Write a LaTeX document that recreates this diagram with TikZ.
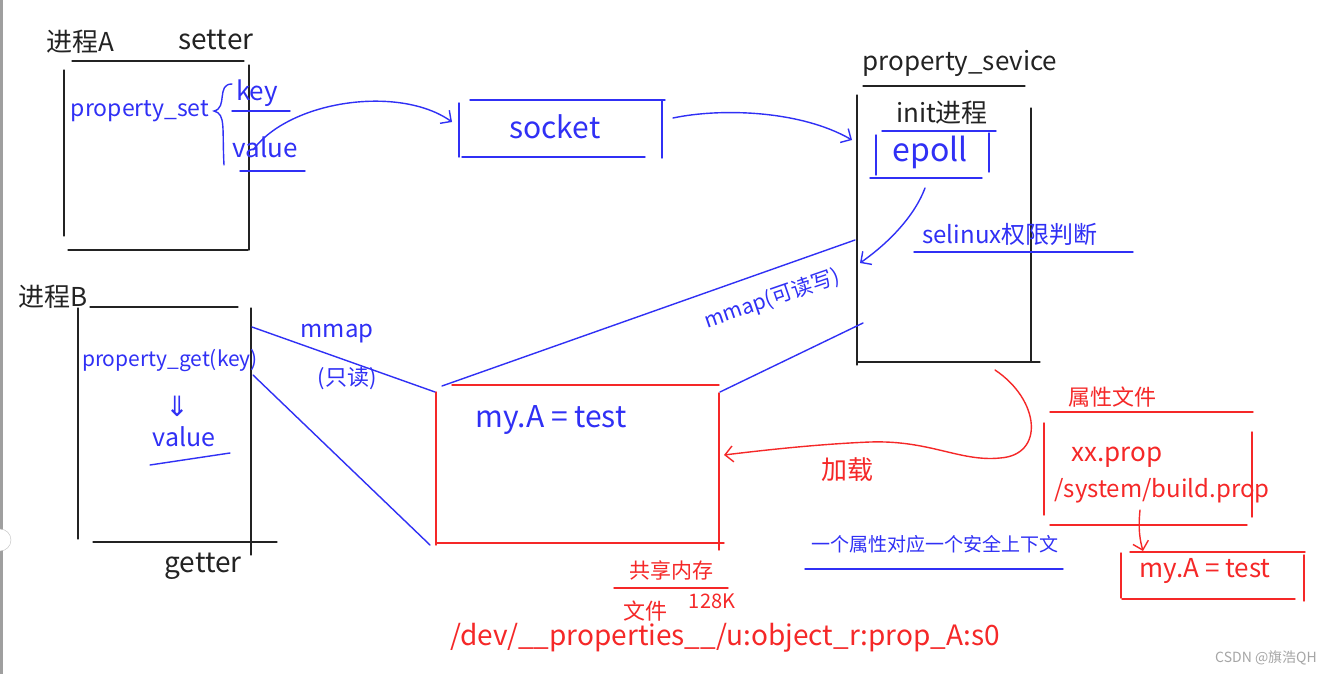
\documentclass[tikz,border=0pt]{standalone}
\usepackage{fontspec}
\setmainfont{Noto Sans CJK SC}
\newfontfamily\symfont{DejaVu Sans}
\usetikzlibrary{arrows.meta}
\definecolor{penblue}{RGB}{48,48,245}
\definecolor{penred}{RGB}{245,40,40}
\definecolor{penblack}{RGB}{35,35,35}
\newcommand{\hand}[1]{\fontsize{#1}{#1}\selectfont}
\begin{document}
\begin{tikzpicture}
    [x=1pt,y=-1pt,
    pen/.style={line width=1.4pt,line cap=round},
    bluepen/.style={pen,draw=penblue},
    redpen/.style={pen,draw=penred},
    blackpen/.style={pen,draw=penblack,line width=1.2pt},
    bluetxt/.style={inner sep=0pt,text=penblue},
    redtxt/.style={inner sep=0pt,text=penred},
    blacktxt/.style={inner sep=0pt,text=penblack},
    barb/.style={-{Straight Barb[length=8pt,width=16pt]}}]
		\useasboundingbox (0,0) rectangle (1329,674);
		\fill[white] (0,0) rectangle (1329,674);
		\fill[gray!75] (0,0) rectangle (3,674);
		\draw[gray!50,fill=white] (0,540) circle (11pt);

		% process A
		\node[blacktxt,font=\hand{26}] (procA) at (80,42) {进程A};
		\node[blacktxt,font=\hand{28}] (setter) at (216,40) {setter};
		\draw[blackpen] (72,61) -- (244,61);
		\draw[blackpen] (64,70) -- (64,236);
		\draw[blackpen] (249,65) -- (249,250);
		\draw[blackpen] (68,250) -- (248,250);
		\node[bluetxt,font=\hand{23}] (pset) at (140,111) {property\_set};
		\draw[bluepen] (232,84) .. controls (216,84) and (228,108) .. (214,111) .. controls (226,114) and (222,128) .. (224,165);
		\node[bluetxt,font=\hand{26}] (key) at (257,93) {key};
		\draw[bluepen] (232,111) -- (290,111);
		\node[bluetxt,font=\hand{26}] (valA) at (265,147) {value};
		\draw[bluepen] (240,171) -- (305,171);

		% socket
		\node[bluetxt,font=\hand{30}] (socket) at (555,127) {socket};
		\draw[bluepen] (470,100) -- (665,100);
		\draw[bluepen] (459,103) -- (459,157);
		\draw[bluepen] (662,100) -- (662,158);
		\draw[bluepen] (462,157) -- (645,157);

		% property service
		\node[blacktxt,font=\hand{26}] (svc) at (960,63) {property\_sevice};
		\draw[blackpen] (863,86) -- (1025,86);
		\draw[blackpen] (857,95) -- (857,365);
		\draw[blackpen] (1031,108) -- (1031,362);
		\draw[blackpen] (857,362) -- (1040,362);
		\node[blacktxt,font=\hand{26}] (init) at (942,113) {init进程};
		\node[bluetxt,font=\hand{32}] (epoll) at (930,152) {epoll};
		\draw[bluepen] (882,131) -- (996,131);
		\draw[bluepen] (876,135) -- (876,175);
		\draw[bluepen] (989,133) -- (989,172);
		\draw[bluepen] (870,178) -- (982,178);
		\node[bluetxt,font=\hand{24}] (selinux) at (1010,234) {selinux权限判断};
		\draw[bluepen] (914,252) -- (1133,252);

		% arrows
		\coordinate (setout) at (253,150);
		\coordinate (sockin) at (452,122);
		\coordinate (sockout) at (673,118);
		\coordinate (svcin) at (852,140);
		\coordinate (epollout) at (925,188);
		\coordinate (svcleft) at (860,263);
		\draw[bluepen,barb] (setout) .. controls (290,100) and (400,85) .. (sockin);
		\draw[bluepen,barb] (sockout) .. controls (720,108) and (800,110) .. (svcin);
		\draw[bluepen,barb] (epollout) .. controls (915,215) and (890,242) .. (svcleft);

		% process B
		\node[blacktxt,font=\hand{26}] (procB) at (53,297) {进程B};
		\draw[blackpen] (90,307) -- (238,307);
		\draw[blackpen] (78,308) -- (78,539);
		\draw[blackpen] (251,308) -- (251,555);
		\draw[blackpen] (93,542) -- (277,542);
		\node[blacktxt,font=\hand{28}] (getter) at (203,566) {getter};
		\node[bluetxt,font=\hand{21}] (pget) at (170,361) {property\_get(key)};
		\node[bluetxt,font={\symfont\hand{28}}] (down) at (177,406) {⇓};
		\node[bluetxt,font=\hand{25}] (valB) at (184,437) {value};
		\draw[bluepen] (150,465) -- (230,453);

		% shared memory
		\node[bluetxt,font=\hand{30}] (myA) at (551,420) {my.A = test};
		\draw[redpen] (452,385) -- (719,385);
		\draw[redpen] (436,392) -- (436,545);
		\draw[redpen] (719,393) -- (719,550);
		\draw[redpen] (436,543) -- (724,543);
		\coordinate (bTop) at (252,327);
		\coordinate (bLow) at (253,375);
		\coordinate (shmTop) at (435,392);
		\coordinate (shmLow) at (430,545);
		\draw[bluepen] (bTop) -- (shmTop);
		\draw[bluepen] (bLow) -- (shmLow);
		\node[bluetxt,font=\hand{24}] (mmapB) at (337,334) {mmap};
		\node[bluetxt,font=\hand{22}] (ronly) at (347,378) {(只读)};
		\coordinate (svcA) at (855,240);
		\coordinate (svcB) at (863,323);
		\coordinate (shmA) at (442,386);
		\coordinate (shmB) at (720,392);
		\draw[bluepen] (svcA) -- (shmA);
		\draw[bluepen] (svcB) -- (shmB);
		\node[bluetxt,font=\hand{21},rotate=19] (mmapA) at (772,299) {mmap(可读写)};

		% loading
		\coordinate (svcbot) at (995,370);
		\coordinate (shmin) at (724,455);
		\draw[redpen,barb] (svcbot) .. controls (1040,400) and (1045,455) .. (1000,458) .. controls (960,462) and (930,440) .. (870,442) .. controls (820,444) and (765,450) .. (shmin);
		\node[redtxt,font=\hand{26}] (load) at (847,470) {加载};
		\node[bluetxt,font=\hand{19}] (ctx) at (935,544) {一个属性对应一个安全上下文};
		\draw[bluepen] (805,569) -- (1063,569);

		% property files
		\node[redtxt,font=\hand{22}] (pfile) at (1112,397) {属性文件};
		\draw[redpen] (1050,412) -- (1253,412);
		\draw[redpen] (1044,423) -- (1044,515);
		\draw[redpen] (1252,432) -- (1252,517);
		\draw[redpen] (1050,525) -- (1247,525);
		\node[redtxt,font=\hand{26}] (xxprop) at (1117,457) {xx.prop};
		\node[redtxt,font=\hand{24}] (build) at (1162,491) {/system/build.prop};
		\node[redtxt,font=\hand{26}] (myAred) at (1205,571) {my.A = test};
		\draw[redpen] (1130,552) -- (1305,552);
		\draw[redpen] (1121,553) -- (1121,598);
		\draw[redpen] (1304,555) -- (1304,601);
		\draw[redpen] (1122,599) -- (1295,599);
		\coordinate (pfout) at (1140,510);
		\coordinate (smallin) at (1143,551);
		\draw[redpen,barb] (pfout) .. controls (1138,530) and (1140,540) .. (smallin);

		% shared memory file
		\node[redtxt,font=\hand{21}] (shm) at (671,570) {共享内存};
		\draw[redpen] (614,588) -- (728,588);
		\node[redtxt,font=\hand{22}] (file) at (645,611) {文件};
		\node[redtxt,font=\hand{20}] (size) at (712,601) {128K};
		\node[redtxt,font=\hand{28}] (dev) at (725,638) {/dev/\_\_properties\_\_/u:object\_r:prop\_A:s0};

		\node[inner sep=0pt,text=gray!70,font=\hand{14}] (mark) at (1266,658) {CSDN @旗浩QH};
    \end{tikzpicture}
\end{document}
